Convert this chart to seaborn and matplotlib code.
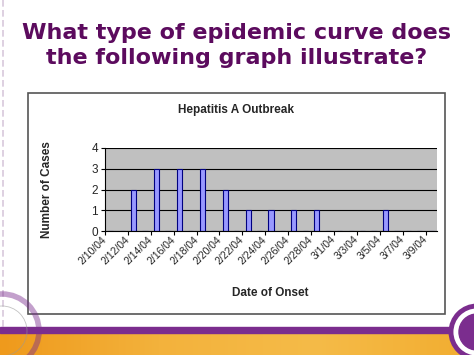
import numpy as np
import pandas as pd
import matplotlib
matplotlib.use("Agg")
import matplotlib.pyplot as plt
import matplotlib.patches as mpatches
import matplotlib.transforms as mtransforms
import seaborn as sns

# -----------------------------
# Data (cases per day of onset, 2/10/04 .. 3/9/04)
# -----------------------------
onset_days = pd.date_range("2004-02-10", "2004-03-09", freq="D")
case_dates = ["2004-02-12", "2004-02-14", "2004-02-16", "2004-02-18", "2004-02-20",
              "2004-02-22", "2004-02-24", "2004-02-26", "2004-02-28", "2004-03-05"]
case_counts = [2, 3, 3, 3, 2, 1, 1, 1, 1, 1]
tick_labels = ["2/10/04", "2/12/04", "2/14/04", "2/16/04", "2/18/04", "2/20/04",
               "2/22/04", "2/24/04", "2/26/04", "2/28/04", "3/1/04", "3/3/04",
               "3/5/04", "3/7/04", "3/9/04"]

counts = pd.Series(case_counts, index=pd.to_datetime(case_dates))
df = pd.DataFrame({"day": onset_days.strftime("%m/%d"),
                   "cases": counts.reindex(onset_days, fill_value=0).values})

sns.set_style("white")
plt.rcParams["font.family"] = ["Liberation Sans", "DejaVu Sans"]

W, H = 474, 355
fig = plt.figure(figsize=(W / 100, H / 100), dpi=100)

# -----------------------------
# Slide background (pixel coords)
# -----------------------------
bg = fig.add_axes([0, 0, 1, 1], zorder=0)
bg.set_xlim(0, W)
bg.set_ylim(H, 0)
bg.axis("off")

purple = "#7b2d8e"
grad = np.linspace(0, 1, 200).reshape(1, -1)
bg.imshow(grad, extent=[0, W, H, 333], cmap=matplotlib.colors.LinearSegmentedColormap.from_list(
    "org", ["#ef9a1c", "#f3b23c", "#f5bb48", "#f2ad30"]), aspect="auto", zorder=1)
bg.add_patch(mpatches.Rectangle((0, 327), W, 6, color=purple, zorder=2))
bg.plot([3, 3], [0, 327], color="#d8c8dc", lw=1.2, ls=(0, (4, 2)), zorder=1)

# left faded rings
bg.add_patch(mpatches.Circle((2, 331), 37, fill=False, ec=purple, lw=4, alpha=0.45, zorder=3))
bg.add_patch(mpatches.Circle((2, 331), 25, fill=False, ec="#999999", lw=0.6, alpha=0.6, zorder=3))
# right ring
bg.add_patch(mpatches.Circle((477, 332), 26, fc="white", ec=purple, lw=3.5, zorder=3))
bg.add_patch(mpatches.Circle((477, 332), 18, color=purple, zorder=4))

# chart frame
bg.add_patch(mpatches.Rectangle((28, 93), 417, 221, fc="white", ec="#555555", lw=1.2, zorder=2))

bg.text(237, 33, "What type of epidemic curve does", ha="center", va="center",
        fontsize=16, fontweight="bold", color="#5c0b5e", family="DejaVu Sans")
bg.text(237, 58, "the following graph illustrate?", ha="center", va="center",
        fontsize=16, fontweight="bold", color="#5c0b5e", family="DejaVu Sans")

bg.text(236, 110, "Hepatitis A Outbreak", ha="center", va="center",
        fontsize=8.5, fontweight="bold")
bg.text(270, 293, "Date of Onset", ha="center", va="center",
        fontsize=8.5, fontweight="bold")
bg.text(47, 190, "Number of Cases", ha="center", va="center", rotation=90,
        fontsize=8.5, fontweight="bold")

# -----------------------------
# Bar chart
# -----------------------------
ax = fig.add_axes([105 / W, 1 - 231 / H, 332 / W, 83 / H], zorder=5)
sns.barplot(data=df, x="day", y="cases", ax=ax, width=0.45,
            color="#9999ff", edgecolor="#000080", linewidth=0.8, saturation=1)
ax.set_facecolor("#c0c0c0")
ax.set_xlim(-0.5, len(onset_days) - 0.5)
ax.set_ylim(0, 4)
ax.set_yticks([0, 1, 2, 3, 4])
ax.set_yticklabels(["0", "1", "2", "3", "4"], fontsize=8.5)
ax.set_xticks(np.arange(0, len(onset_days), 2) - 0.5)
ax.set_xticklabels(tick_labels, rotation=45, ha="right", va="center",
                   rotation_mode="anchor", fontsize=7.5)
offset = mtransforms.ScaledTranslation(-6 / 100, -5 / 100, fig.dpi_scale_trans)
for lab in ax.get_xticklabels():
    lab.set_transform(lab.get_transform() + offset)
ax.set_xlabel("")
ax.set_ylabel("")
ax.grid(axis="y", color="black", lw=0.8)
ax.set_axisbelow(True)
for s in ["top", "right"]:
    ax.spines[s].set_visible(False)
ax.spines["left"].set_color("black")
ax.spines["bottom"].set_color("black")
ax.spines["left"].set_linewidth(0.8)
ax.spines["bottom"].set_linewidth(0.8)
ax.tick_params(axis="both", which="major", direction="out", length=3, width=0.8,
               color="black", left=True, bottom=True, pad=2)

fig.savefig("out.png", dpi=100)
